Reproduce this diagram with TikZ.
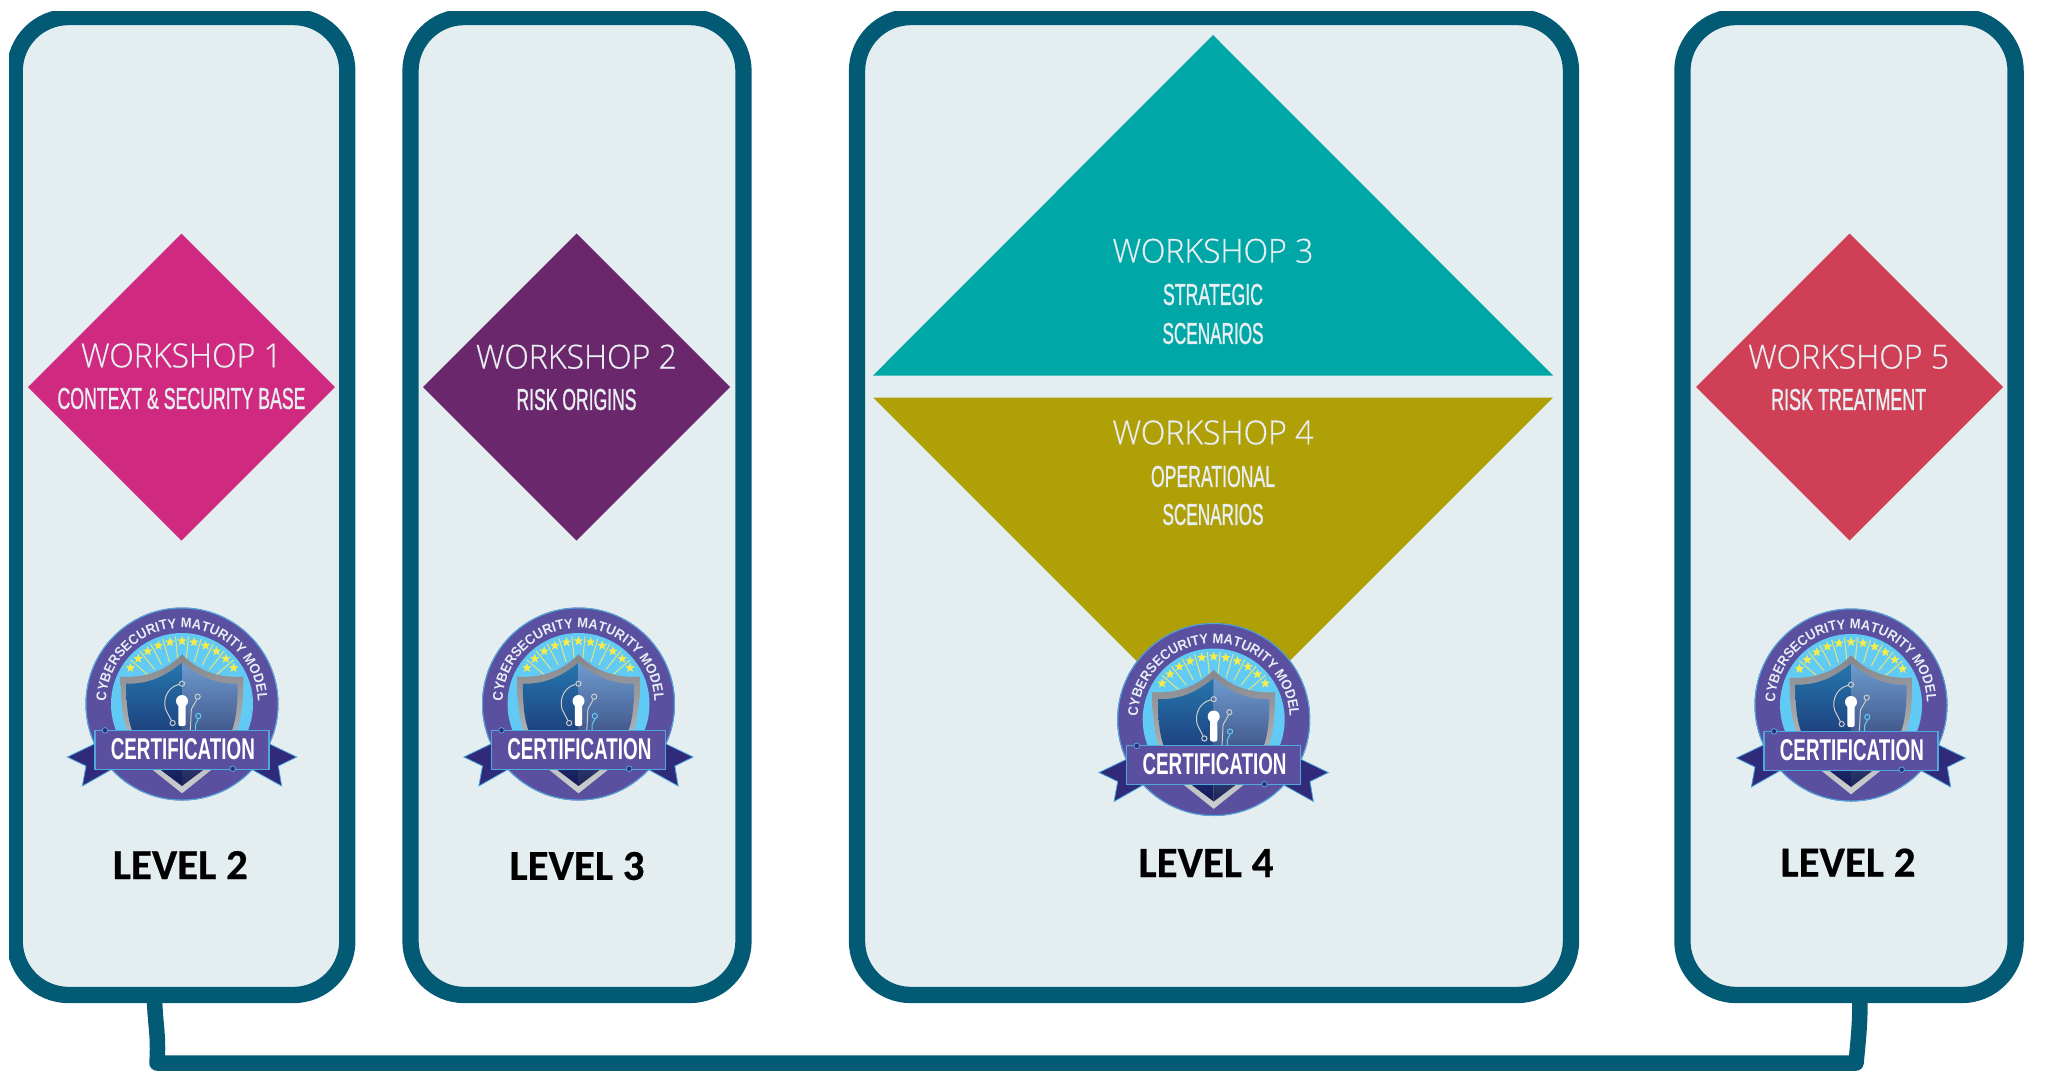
\documentclass[tikz,border=0pt]{standalone}
\usepackage{fontspec}
\usepackage{graphicx}
\usetikzlibrary{shapes.geometric,decorations.text}
\newfontfamily\wsfont{Open Sans Light}[FakeBold=0.6]
\newfontfamily\subfont{Liberation Sans}[FakeBold=1.4]
\newfontfamily\certfont{Liberation Sans Bold}
\newfontfamily\arcfont{Liberation Sans Bold}[FakeStretch=0.93]
\newfontfamily\lvlfont{Carlito Bold}[FakeBold=0.5]
\definecolor{frame}{HTML}{025A75}
\definecolor{panel}{HTML}{E4EEF1}
\definecolor{wone}{HTML}{CF2A80}
\definecolor{wtwo}{HTML}{6A276C}
\definecolor{wthree}{HTML}{00A7A7}
\definecolor{wfour}{HTML}{B0A008}
\definecolor{wfive}{HTML}{CF4056}
\definecolor{labelc}{HTML}{E8EEF2}
\definecolor{bpurple}{HTML}{5B4FA0}
\definecolor{bsky}{HTML}{62CBF5}
\definecolor{bedge}{HTML}{4FA8DC}
\definecolor{bnavy}{HTML}{2F2B7A}
\definecolor{bstarc}{HTML}{F5EC4A}
\definecolor{brayc}{HTML}{E0E67C}
\definecolor{rimtop}{HTML}{85878C}
\definecolor{rimlow}{HTML}{CCCED0}
\definecolor{shla}{HTML}{2676AE}
\definecolor{shlb}{HTML}{1B3F86}
\definecolor{shlc}{HTML}{161A5A}
\definecolor{shra}{HTML}{6E9BCF}
\definecolor{shrb}{HTML}{2F4A85}
\definecolor{shrc}{HTML}{1F2558}
\newcommand{\fit}[3]{\resizebox{#1pt}{#2pt}{#3}}
\newcommand{\ws}[1]{\fit{201}{24}{\wsfont #1}}
\newcommand{\subt}[2]{\fit{#1}{21}{\subfont #2}}
\newcommand{\lvl}[2]{\fit{#1}{28}{\lvlfont #2}}
\tikzset{
  panelbox/.style={draw=frame,fill=panel,line width=16.3pt,rounded corners=54pt,inner sep=0pt,outer sep=0pt},
  wdiamond/.style={diamond,inner sep=0pt,outer sep=0pt,minimum width=307pt,minimum height=307pt,aspect=1},
  lbl/.style={inner sep=0pt,outer sep=0pt,text=labelc},
  lvllbl/.style={inner sep=0pt,outer sep=0pt,text=black},
  link/.style={draw=frame,line width=15.5pt,line join=round},
  circuit/.style={draw=#1,line width=1pt,fill=none},
}
\newcommand{\badge}[3]{%
\begin{scope}[shift={(#2,#3)},x=1pt,y=1pt]
  \fill[bpurple] (0,0) circle[radius=96.5pt];
  \draw[bedge,line width=1pt] (0,0) circle[radius=96pt];
  \begin{scope}
    \clip (-80,-65) rectangle (80,80);
    \fill[bsky] (0,0) circle[radius=71pt];
  \end{scope}
  \foreach \a in {5.5,16.5,27.5,38.5,49.5} {
    \draw[brayc,line width=1pt] (90+\a:44pt) -- (90+\a:68pt);
    \draw[brayc,line width=1pt] (90-\a:44pt) -- (90-\a:68pt);
  }
  \foreach \a in {35,46,57,68,79,90,101,112,123,134,145} {
    \fill[bstarc,shift={(\a:63pt)}] (90:5pt)--(126:2.1pt)--(162:5pt)--(198:2.1pt)--(234:5pt)--(270:2.1pt)--(306:5pt)--(342:2.1pt)--(18:5pt)--(54:2.1pt)--cycle;
  }
  \path[decorate,decoration={text along path,text align={fit to path},
     text={|\fontsize{14pt}{14pt}\arcfont\color{labelc}|CYBERSECURITY MATURITY MODEL}}]
     (178:76pt) arc[start angle=178,end angle=2,radius=76pt];
  \begin{scope}[x=.33333pt,y=-.33333pt,shift={(-396,-339)}]
    % shield rim
    \shade[top color=rimtop,bottom color=rimlow]
      (396,190) .. controls (440,235) and (500,262) .. (580,257)
      .. controls (580,330) and (575,380) .. (560,420) -- (486,535) -- (396,607) -- (306,535) -- (232,420)
      .. controls (217,380) and (212,330) .. (212,257)
      .. controls (292,262) and (352,235) .. (396,190) -- cycle;
    % shield faces
    \shade[top color=shla,middle color=shlb,bottom color=shlc]
      (396,215) .. controls (347,255) and (297,280) .. (229,278)
      .. controls (229,340) and (234,390) .. (247,420) -- (330,535) -- (396,585) -- cycle;
    \shade[top color=shra,middle color=shrb,bottom color=shrc]
      (396,215) .. controls (445,255) and (495,280) .. (563,278)
      .. controls (563,340) and (558,390) .. (545,420) -- (462,535) -- (396,585) -- cycle;
    % keyhole
    \fill[white] (396,330) circle[radius=6pt];
    \fill[white,rounded corners=2pt] (385,330) rectangle (407,405);
    % circuits
    \draw[circuit=black!20!white] (396,278) circle[radius=2.6pt];
    \draw[circuit=black!20!white] (387,280) .. controls (345,290) and (335,340) .. (352,365) -- (364,388);
    \draw[circuit=black!20!white] (368,396) circle[radius=2.6pt];
    \draw[circuit=black!20!white] (443,317) circle[radius=2.6pt];
    \draw[circuit=black!20!white] (440,326) -- (424,355) -- (421,418);
    \draw[circuit=bsky] (445,375) circle[radius=2.6pt];
    \draw[circuit=bsky] (445,384) -- (437,400) -- (437,418);
    % ribbon
    \fill[bnavy,draw=bedge,line width=.8pt] (135,458) -- (52,498) -- (108,525) -- (97,585) -- (185,535) -- cycle;
    \fill[bnavy,draw=bedge,line width=.8pt] (657,458) -- (740,498) -- (685,525) -- (695,585) -- (605,535) -- cycle;
    \fill[bpurple,draw=bedge,line width=1.1pt] (135,418) rectangle (657,535);
    \fill[bnavy,draw=bedge,line width=.8pt] (165,418) circle[radius=2.8pt];
    \fill[bnavy,draw=bedge,line width=.8pt] (548,533) circle[radius=2.8pt];
    \node[inner sep=0pt,outer sep=0pt,text=white] (cert#1) at (398.5,474) {\fit{144}{21}{\certfont CERTIFICATION}};
  \end{scope}
\end{scope}}
\begin{document}
\begin{tikzpicture}[x=1pt,y=-1pt]
\useasboundingbox (0,0) rectangle (2048,1085);
% panels, cut off at the left and top edge as in the picture
\begin{scope}
  \clip (9,11) rectangle (2048,1085);
  \node[panelbox,minimum width=332.6pt,minimum height=978pt] (box1) at (181,506) {};
  \node[panelbox,minimum width=333pt,minimum height=978pt] (box2) at (577,506) {};
  \node[panelbox,minimum width=714pt,minimum height=978pt] (box3) at (1214,506) {};
  \node[panelbox,minimum width=333.2pt,minimum height=978pt] (box4) at (1849,506) {};
\end{scope}
\coordinate (linkstart) at ([xshift=-26.5pt,yshift=2pt]box1.south);
\coordinate (linkend) at ([xshift=11pt,yshift=2pt]box4.south);
\draw[link] (linkstart) .. controls ++(0,30) and ++(2,-30) .. (157,1063) -- (1856,1063) .. controls ++(3,-30) and ++(0,30) .. (linkend);
% workshops
\node[wdiamond,fill=wone] (d1) at (181.5,387) {};
\node[wdiamond,fill=wtwo] (d2) at (576.5,387) {};
\node[wdiamond,fill=wfive] (d5) at (1849.5,387) {};
\fill[wthree] (1213,35) -- (1553,375.5) -- (873,375.5) -- cycle;
\fill[wfour] (873,397.5) -- (1553,397.5) -- (1213,737.5) -- cycle;
\node[lbl] (t1) at (181.5,355.5) {\ws{WORKSHOP 1}};
\node[lbl] (s1) at (181.5,398.5) {\subt{248}{CONTEXT \& SECURITY BASE}};
\node[lbl] (t2) at (576.5,356.7) {\ws{WORKSHOP 2}};
\node[lbl] (s2) at (576.5,399.5) {\subt{120}{RISK ORIGINS}};
\node[lbl] (t3) at (1213,250.8) {\ws{WORKSHOP 3}};
\node[lbl] (s3a) at (1213,294.5) {\subt{100}{STRATEGIC}};
\node[lbl] (s3b) at (1213,333.5) {\subt{101}{SCENARIOS}};
\node[lbl] (t4) at (1213,432.5) {\ws{WORKSHOP 4}};
\node[lbl] (s4a) at (1213,476.5) {\subt{124}{OPERATIONAL}};
\node[lbl] (s4b) at (1213,514.5) {\subt{101}{SCENARIOS}};
\node[lbl] (t5) at (1848.7,356.7) {\ws{WORKSHOP 5}};
\node[lbl] (s5) at (1848.7,399.5) {\subt{155}{RISK TREATMENT}};
% badges
\badge{a}{182}{704}
\badge{b}{578.5}{704}
\badge{c}{1213.7}{719.5}
\badge{d}{1851}{705}
% levels
\node[lvllbl] (l1) at (180.3,865) {\lvl{135}{LEVEL 2}};
\node[lvllbl] (l2) at (577,866) {\lvl{135}{LEVEL 3}};
\node[lvllbl] (l3) at (1206,863) {\lvl{135}{LEVEL 4}};
\node[lvllbl] (l4) at (1848,862.5) {\lvl{135}{LEVEL 2}};
\end{tikzpicture}
\end{document}
